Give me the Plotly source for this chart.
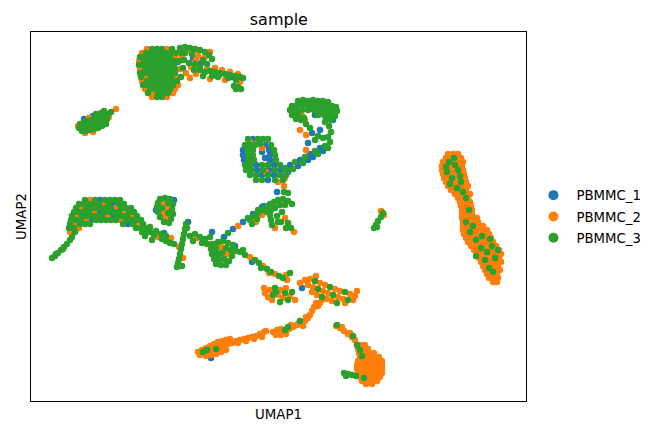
import plotly.graph_objects as go

# UMAP coordinates (units: picture coordinates of the plot box)
# cluster A - large blob top left
a_green = [(152,49),(157,49),(162,49),(172,49),
           (146,53),(151,53),(156,53),(161,53),(166,53),(171,53),(176,53),(181,53),
           (140,57),(145,57),(150,57),(155,57),(160,57),(165,57),(170,57),
           (144,61),(149,61),(154,61),(159,61),(164,61),(169,61),(174,61),(179,61),
           (139,65),(144,65),(149,65),(154,65),(159,65),(164,65),(169,65),(174,65),
           (145,69),(150,69),(155,69),(160,69),(165,69),(170,69),(175,69),
           (140,73),(145,73),(150,73),(155,73),(160,73),(165,73),(170,73),(175,73),
           (141,77),(151,77),(156,77),(161,77),(166,77),(171,77),(181,77),
           (147,81),(152,81),(157,81),(162,81),(167,81),(172,81),(177,81),
           (143,85),(148,85),(153,85),(158,85),(163,85),(168,85),(173,85),
           (150,89),(155,89),(160,89),(165,89),(170,89),
           (148,93),(158,93),(163,93),(168,93),(157,97),(162,97),
           # arm
           (180,48),(185,47),(190,48),(195,49),(200,50),(205,52),(209,55),(212,59),(185,53),(192,54),
           (203,60),(207,64),(184,60),(189,63),(195,64),(200,67),(183,68),(194,70),
           # tail
           (200,70),(205,72),(210,71),(215,72),(220,73),(225,74),(230,75),(235,76),(240,77),(243,78),
           (203,76),(212,76),(218,77),(228,78),(236,80),(234,86),(238,87),(241,89),(236,89)]
a_orange = [(147,49),(167,49),(142,53),(175,57),(139,61),(140,69),
            (180,69),(146,77),(176,77),(142,81),(178,85),(145,89),(175,89),
            (153,93),(173,93),(152,97),(167,97),
            (187,50),(198,51),(210,52),(182,57),(196,60),(205,57),(191,67),(186,73),(198,56),
            (207,69),(215,68),(222,70),(230,72),(238,74),(210,79),(225,80),(240,82),(190,78),(196,74)]
a_blue = [(150,50),(171,66),(193,58),(201,63),(178,62),(219,75),(232,77)]

# cluster B - small island left
b_green = [(80,124),(84,122),(88,121),(92,120),(96,119),(100,118),(104,116),(108,114),(111,112),
           (79,128),(83,127),(87,126),(91,125),(95,124),(99,123),(103,121),(107,119),
           (82,131),(86,131),(90,130),(94,129),(98,128),(102,126),(106,124),(96,114),(101,113),(104,111)]
b_orange = [(78,126),(85,133),(93,132),(97,121),(109,117),(116,109),(89,118)]
b_blue = [(84,119),(93,116)]

# cluster C - loop in the middle
c_green = [(248,139),(258,139),(263,139),(268,139),(245,145),(250,145),(255,145),(260,144),(271,145),
           (248,150),(253,150),(274,150),
           (248,155),(253,155),(275,155),(249,160),(254,160),(276,160),
           (245,165),(250,165),(262,165),(268,165),(280,165),
           (246,170),(251,170),(263,170),(275,170),(287,170),
           (250,175),(256,175),(268,175),(280,175),(286,175),(256,180),(262,180),(275,180),(283,180),
           (285,168),(295,162),(305,157),(315,151),(325,146),(293,169),(303,163),(318,154),(328,148),(330,142),
           (306,124),(310,128),(318,136),(323,138),(328,137),(331,132),(329,126),(325,122),(315,140),
           (304,118),(330,115),
           (298,101),(303,100),(308,101),(313,100),(318,101),(323,101),(328,102),
           (292,106),(297,105),(302,105),(307,105),(312,105),(317,105),(322,105),(327,106),(332,106),(336,107),
           (290,110),(296,110),(302,110),(308,110),(314,110),(320,110),(326,110),(332,110),(337,111),
           (292,115),(298,115),(318,115),(324,115),(330,115),(335,116),(296,119),(301,120),(326,119),(331,120)]
c_orange = [(250,142),(262,148),(248,170),(266,172),(278,182),(285,178),(252,157),(306,150),
            (300,130),(306,135),(305,120),(297,113),(312,103),(322,112),(302,116),(284,186)]
c_blue = [(253,139),(266,145),(243,150),(269,150),(243,155),(270,155),(244,160),(270,160),(256,165),
          (274,165),(257,170),(269,170),(281,170),(262,175),(274,175),(268,180),(262,152),(265,158),
          (290,165),(300,160),(310,154),(320,148),(288,172),(298,166),(308,160),(313,157),(323,151),
          (312,133),(320,130),(308,143),(315,115),(333,120),(277,192)]

# cluster L - tiny group
l_green = [(383,213),(381,217),(378,221),(376,225),(374,228),(377,227)]
l_orange = [(381,211),(384,215)]

# cluster D - long arc bottom left
d_green = [(52,258),(55,256),(58,253),(61,250),(64,247),(67,244),(70,240),(72,237),(56,254),(63,249),
           (85,200),(95,200),(105,200),(110,200),(115,200),(120,200),
           (79,204),(84,204),(89,204),(94,204),(99,204),(109,204),(119,204),(124,204),
           (76,208),(86,208),(91,208),(96,208),(101,208),(106,208),(111,208),(121,208),(126,208),(131,208),
           (74,212),(79,212),(84,212),(89,212),(104,212),(109,212),(114,212),(119,212),(129,212),(134,212),
           (72,216),(82,216),(87,216),(92,216),(97,216),(102,216),(117,216),(122,216),(127,216),(137,216),
           (71,220),(76,220),(81,220),(96,220),(101,220),(106,220),(111,220),(116,220),(126,220),(131,220),
           (136,220),(141,220),
           (70,224),(80,224),(85,224),(90,224),(123,224),(133,224),(143,224),
           (69,228),(74,228),(136,228),(141,228),(75,232),(142,232),(147,232),
           (146,229),(150,232),(154,235),(162,239),(166,241),(170,243),(174,244),(150,227),(156,231),
           (161,234),(166,236),(145,236),(152,240),
           (160,199),(165,198),(170,199),(158,203),(168,203),(173,204),(157,207),(162,208),(172,209),
           (158,212),(168,213),(173,214),(160,217),(171,219),(164,222),(169,223),
           (186,224),(185,229),(184,234),(183,239),(182,244),(181,249),(180,254),(179,259),(178,263),
           (177,267),(182,266),(187,228),
           (190,236),(195,234),(200,237),(205,239),(210,237),(193,241),(202,243),(207,244)]
d_orange = [(90,200),(104,204),(81,208),(116,208),(94,212),(124,212),(77,216),(107,216),(132,216),
            (86,220),(121,220),(75,224),(138,224),(79,228),(146,228),(70,232),(158,237),(171,238),
            (163,203),(167,208),(163,213),(166,218),(179,247),(183,258),(197,238)]
d_blue = [(100,200),(114,204),(99,212),(112,216),(91,220),(128,224),(164,233),(156,210),(174,200),
          (188,222),(212,232)]

# cluster E / F - knot, bridge and upper arm
e_green = [(213,244),(218,242),(223,241),(228,243),(233,245),(211,249),(216,248),(226,248),(231,250),
           (236,251),(212,254),(217,253),(222,253),(232,256),(214,259),(219,259),(224,259),(229,261),
           (216,264),(221,265),(226,265),(228,233),(248,218),(258,210),
           (250,220),(254,216),(258,213),(262,210),(266,207),(270,204),(274,202),(278,200),(283,199),
           (288,201),(292,204),(252,224),(257,219),(267,212),(271,210),(275,208),(280,205),(285,205),
           (270,215),(271,220),(272,225),(277,216),(282,212),(288,223),(291,228),(281,222),(286,228),
           (278,222),(284,192),(288,193),
           (240,252),(245,255),(255,260),(259,263),(267,269),(271,272),(279,276),(283,278),(243,250),
           (261,268),(290,273)]
e_orange = [(221,247),(227,254),(210,244),(238,226),(262,215),(275,228),(285,218),(294,232),(256,222),
            (250,257),(263,266),(275,274),(269,273),(286,275),(287,280)]
e_blue = [(235,246),(218,256),(224,237),(233,229),(243,222),(253,214),(262,207),(264,206),(252,262)]

# clusters G and H - mixed groups lower middle
g_green = [(275,288),(285,293),(273,295),(288,300),(280,302),(276,292),(292,292),
           (315,281),(330,287),(345,292),(318,289),(333,295),(348,300),(322,297),(337,303)]
g_orange = [(265,293),(270,290),(280,290),(290,296),(295,300),(268,297),(278,295),(283,298),(272,300),
            (264,288),(286,288),
            (305,280),(310,279),(320,283),(325,285),(335,289),(340,291),(350,294),(355,296),(308,285),
            (313,287),(323,291),(328,293),(338,297),(343,299),(353,300),(312,292),(317,295),(327,299),
            (332,301),(345,303),(300,283),(316,276),(357,291),(320,303)]
g_blue = [(302,288)]

# cluster I - orange streak at the bottom
i_orange = [(198,352),(202,350),(206,348),(210,346),(214,344),(218,342),(222,341),(226,340),(230,339),
            (200,355),(204,354),(208,352),(212,351),(220,347),(224,346),(228,344),(232,343),(206,356),
            (211,355),(216,354),(221,352),(226,350),
            (236,341),(240,340),(244,339),(248,338),(252,337),(256,336),(260,334),(264,332),(238,343),
            (246,341),(254,339),(262,337),(266,331),
            (273,332),(277,330),(281,329),(276,335),(281,335),(286,334),
            (289,329),(293,327),(297,325),(301,323),(305,321),(308,318),(310,315),(312,311),(314,307),
            (316,303),(291,325),(306,317),(303,326),(318,306),(322,300)]
i_green = [(207,350),(216,349),(285,330),(300,321),(288,327),(203,352)]
i_blue = [(211,358),(298,324)]

# cluster J - orange blob bottom right
j_orange = [(336,326),(340,328),(344,331),(348,334),(352,337),(355,340),(342,327),(350,333),
            (360,345),(365,345),(358,349),(363,349),(368,349),(359,353),(364,353),(369,353),(374,353),
            (360,357),(365,357),(370,357),(375,357),(379,357),
            (358,361),(363,361),(368,361),(373,361),(378,361),(382,361),
            (357,365),(362,365),(367,365),(372,365),(377,365),(382,365),
            (357,369),(362,369),(367,369),(372,369),(377,369),(382,369),
            (358,373),(363,373),(368,373),(373,373),(378,373),(382,373),
            (360,377),(365,377),(370,377),(375,377),(380,377),
            (362,381),(367,381),(372,381),(377,381),(366,384),(372,384)]
j_green = [(337,325),(353,336),(357,345),(362,356),(360,350),(364,378),
           (344,373),(348,374),(352,375),(356,376),(346,376)]

# cluster K - orange strip at the right
k_orange = [(448,154),(453,154),(458,154),(446,158),(451,158),(456,158),(461,158),
            (443,162),(448,162),(453,162),(458,162),(463,162),(442,166),(447,166),(452,166),(457,166),(462,166),
            (442,170),(447,170),(452,170),(457,170),(463,170),(443,174),(448,174),(453,174),(458,174),(464,174),
            (444,178),(449,178),(454,178),(459,178),(465,178),(446,182),(451,182),(456,182),(461,182),(466,182),
            (448,186),(453,186),(458,186),(463,186),(468,186),(451,190),(456,190),(461,190),(466,190),
            (455,194),(460,194),(465,194),(470,194),(458,198),(463,198),(468,198),
            (460,202),(465,202),(470,202),(461,206),(466,206),(471,206),(462,210),(467,210),(472,210),
            (462,214),(467,214),(472,214),(462,218),(467,218),(472,218),(477,218),
            (463,222),(468,222),(473,222),(478,222),(463,226),(468,226),(473,226),(478,226),(483,226),
            (463,230),(468,230),(473,230),(478,230),(483,230),(487,230),
            (464,234),(469,234),(474,234),(479,234),(484,234),(489,234),
            (466,238),(471,238),(476,238),(481,238),(486,238),(491,238),
            (468,242),(473,242),(478,242),(483,242),(488,242),(493,242),
            (471,246),(476,246),(481,246),(486,246),(491,246),(496,246),
            (474,250),(479,250),(484,250),(489,250),(494,250),(499,250),
            (477,254),(482,254),(487,254),(492,254),(497,254),(501,254),
            (479,258),(484,258),(489,258),(494,258),(499,258),(481,262),(486,262),(491,262),(496,262),(501,262),
            (483,266),(488,266),(493,266),(498,266),(485,270),(490,270),(495,270),(500,270),
            (487,274),(492,274),(497,274),(489,278),(494,278),(498,278),(493,282),(497,282)]
k_green = [(449,162),(455,165),(447,172),(452,178),(458,170),(461,182),(450,184),(457,188),(463,192),
           (446,167),(454,158),(460,176),(466,198),(469,210),(466,222),(470,232),(476,240),(481,248),
           (487,252),(492,246),(485,260),(495,258),(489,268),(490,239),(498,250),(482,236),(476,256),
           (493,272),(473,226)]
k_blue = [(497,257)]

samples = ["PBMMC_1", "PBMMC_2", "PBMMC_3"]
colors = ["#1f77b4", "#ff7f0e", "#2ca02c"]
points = [
    a_blue + b_blue + c_blue + d_blue + e_blue + g_blue + i_blue + k_blue,
    a_orange + b_orange + c_orange + l_orange + d_orange + e_orange + g_orange + i_orange + j_orange + k_orange,
    a_green + b_green + c_green + l_green + d_green + e_green + g_green + i_green + j_green + k_green,
]

fig = go.Figure()
for name, col, pts in zip(samples, colors, points):
    fig.add_trace(go.Scatter(
        x=[p[0] for p in pts], y=[p[1] for p in pts], mode="markers", name=name,
        marker=dict(color=col, size=6.5, line=dict(width=0)), showlegend=False))
# bigger symbols for the legend only
for name, col in zip(samples, colors):
    fig.add_trace(go.Scatter(x=[None], y=[None], mode="markers", name=name, legendgroup=name,
                             marker=dict(color=col, size=10)))

axis = dict(showgrid=False, zeroline=False, showticklabels=False, ticks="",
            showline=True, mirror=True, linecolor="black", linewidth=1)
fig.update_xaxes(axis, range=[31, 526],
                 title=dict(text="UMAP1", font=dict(size=13.3, color="black"), standoff=8))
fig.update_yaxes(axis, range=[401, 32],
                 title=dict(text="UMAP2", font=dict(size=13.3, color="black"), standoff=0))

fig.update_layout(
    width=660, height=431,
    margin=dict(l=31, r=134, t=32, b=30),
    font=dict(family="DejaVu Sans", color="black"),
    title=dict(text="sample", x=0.4225, xanchor="center", y=1 - 19 / 431, yanchor="middle",
               font=dict(size=16, color="black")),
    plot_bgcolor="white", paper_bgcolor="white",
    legend=dict(x=1.009, xanchor="left", y=0.5, yanchor="middle", tracegroupgap=1, itemwidth=36,
                font=dict(size=13.3, color="black")),
)

fig.write_html("out.html", config={"displayModeBar": False},
               post_script="document.body.style.margin='0';")
